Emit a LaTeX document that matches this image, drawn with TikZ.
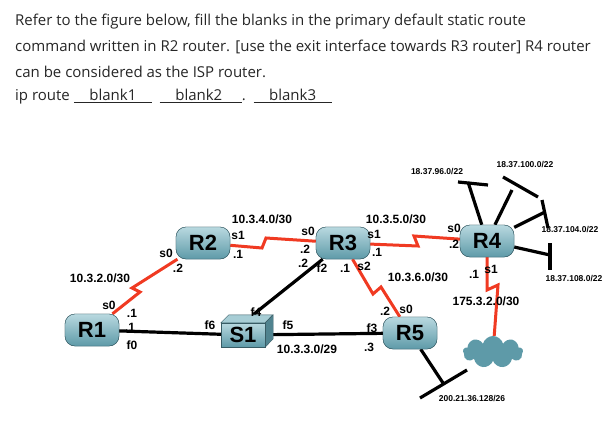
\documentclass[tikz,border=0pt]{standalone}
\usepackage{fontspec}
\setmainfont{Open Sans}
\setsansfont{Liberation Sans}
\usetikzlibrary{calc,shapes.symbols}
\definecolor{rt}{HTML}{5E9AA8}
\definecolor{rtl}{HTML}{B9D9E0}
\definecolor{lk}{HTML}{F03A22}
\begin{document}
\begin{tikzpicture}[x=1pt,y=-1pt,
  txt/.style={anchor=west,inner sep=0,font=\fontsize{15}{17}\selectfont,text=black!85},
  router/.style={draw=rt!60!black,rounded corners=10pt,minimum width=54pt,minimum height=32pt,
     top color=rtl,bottom color=rt,font=\sffamily\bfseries\fontsize{22}{22}\selectfont,inner sep=0},
  sw/.style={draw=rt!60!black,minimum width=44pt,minimum height=24pt,
     top color=rtl,bottom color=rt,font=\sffamily\bfseries\fontsize{22}{22}\selectfont,inner sep=0},
  lab/.style={font=\sffamily\bfseries\fontsize{12}{12}\selectfont,inner sep=0},
  slab/.style={font=\sffamily\bfseries\fontsize{8.5}{8.5}\selectfont,inner sep=0},
  red/.style={draw=lk,line width=3pt},
  blk/.style={draw=black,line width=3.2pt}]
\useasboundingbox (0,0) rectangle (612,441);
\node[txt] (t1) at (15,22) {Refer to the figure below, fill the blanks in the primary default static route};
\node[txt] (t2) at (15,47) {command written in R2 router. [use the exit interface towards R3 router] R4 router};
\node[txt] (t3) at (15,72) {can be considered as the ISP router.};
\node[txt] (t4) at (15,97) {ip route \underline{\ \ \ \ blank1\ \ \ \ }\ \ \underline{\ \ \ \ blank2\ \ \ \ \ }.\ \ \underline{\ \ \ \ blank3\ \ \ \ }};
\coordinate (c96) at (468,182); \coordinate (c100) at (512,190);
\coordinate (c104) at (545,212); \coordinate (c108) at (550,255);
\coordinate (c5) at (443,383);
\node[router] (R1) at (92,330) {R1};
\node[router] (R2) at (203,243) {R2};
\node[router] (R3) at (343,243) {R3};
\node[router] (R4) at (487,241) {R4};
\node[router] (R5) at (410,333) {R5};
\node[sw] (S1) at (243,335) {S1};
\node[cloud,cloud puffs=9,aspect=2.2,fill=rt,draw=none,minimum width=60pt,minimum height=32pt] (CL) at (493,352) {};
\draw[blk] (R1) -- (S1);
\draw[blk] (S1) -- (R5);
\draw[blk] (S1.north) ++(10,-8) -- (R3);
\draw[blk] (R4) -- (c96); \draw[blk] (458,182) -- (488,185);
\draw[blk] (R4) -- (c100); \draw[blk] (503,177) -- (538,197);
\draw[blk] (R4) -- (c104); \draw[blk] (542,200) -- (548,228);
\draw[blk] (R4) -- (c108); \draw[blk] (550,243) -- (550,270);
\draw[blk] (R5) -- (c5); \draw[blk] (420,398) -- (467,370);
\draw[red] (R1) -- (140,292) -- (132,288) -- (R2);
\draw[red] (R2) -- (262,248) -- (266,238) -- (R3);
\draw[red] (R3) -- (418,246) -- (414,236) -- (R4);
\draw[red] (R3) -- (373,294) -- (381,287) -- (R5);
\draw[red] (R4) -- (487,290) -- (498,285) -- (CL);
\node[router] at (R1) {R1};
\node[router] at (R2) {R2};
\node[router] at (R3) {R3};
\node[router] at (R4) {R4};
\node[router] at (R5) {R5};
\fill[rtl!80!rt,draw=rt!60!black] (S1.north west) -- ++(8,-8) -- ++(44,0) -- (S1.north east) -- cycle;
\fill[rt!85!black,draw=rt!60!black] (S1.north east) -- ++(8,-8) -- ++(0,24) -- (S1.south east) -- cycle;
\node[sw] at (S1) {S1};
\node[lab] at (262,219) {10.3.4.0/30};
\node[lab] at (396,219) {10.3.5.0/30};
\node[lab] at (100,278) {10.3.2.0/30};
\node[lab] at (307,349) {10.3.3.0/29};
\node[lab] at (418,277) {10.3.6.0/30};
\node[lab] at (486,301) {175.3.2.0/30};
\node[lab] at (238,235) {s1}; \node[lab] at (238,254) {.1};
\node[lab] at (308,231) {s0}; \node[lab] at (305,249) {.2};
\node[lab] at (303,263) {.2}; \node[lab] at (322,268) {f2};
\node[lab] at (374,234) {s1}; \node[lab] at (377,252) {.1};
\node[lab] at (454,228) {s0}; \node[lab] at (454,244) {.2};
\node[lab] at (345,268) {.1}; \node[lab] at (364,266) {s2};
\node[lab] at (385,311) {.2}; \node[lab] at (406,309) {s0};
\node[lab] at (372,328) {f3}; \node[lab] at (369,347) {.3};
\node[lab] at (288,325) {f5}; \node[lab] at (256,312) {f4}; \node[lab] at (210,325) {f6};
\node[lab] at (109,305) {s0}; \node[lab] at (132,313) {.1};
\node[lab] at (130,327) {.1}; \node[lab] at (132,345) {f0};
\node[lab] at (166,253) {s0}; \node[lab] at (178,268) {.2};
\node[lab] at (474,274) {.1}; \node[lab] at (491,269) {s1};
\node[slab] at (437,172) {18.37.96.0/22};
\node[slab] at (525,165) {18.37.100.0/22};
\node[slab] at (570,230) {18.37.104.0/22};
\node[slab] at (574,279) {18.37.108.0/22};
\node[slab] at (472,398) {200.21.36.128/26};
\end{tikzpicture}
\end{document}
